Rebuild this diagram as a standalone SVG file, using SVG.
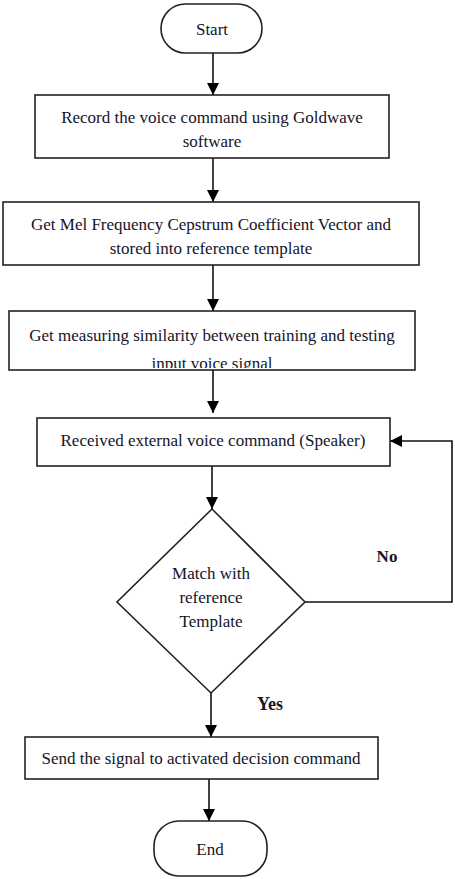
<svg xmlns="http://www.w3.org/2000/svg" width="455" height="879" viewBox="0 0 455 879">
<style>
.box{fill:#fff;stroke:#222;stroke-width:1.6}
.ln{fill:none;stroke:#111;stroke-width:1.6}
.t{font-family:"Liberation Serif","Times New Roman",serif;font-size:17px;fill:#14142a;text-anchor:middle}
.b{font-weight:bold}
</style>
<defs>
<marker id="ah" viewBox="0 0 12 12" refX="12" refY="6" markerWidth="12" markerHeight="12" markerUnits="userSpaceOnUse" orient="auto">
<path d="M0,0 L12,6 L0,12 z" fill="#000"/>
</marker>
<clipPath id="c3"><rect x="9" y="311" width="406" height="57"/></clipPath>
</defs>
<rect width="455" height="879" fill="#fff"/>
<g id="connectors">
<line class="ln" x1="213" y1="53" x2="213" y2="95" marker-end="url(#ah)"/>
<line class="ln" x1="213" y1="158" x2="213" y2="202" marker-end="url(#ah)"/>
<line class="ln" x1="213" y1="265" x2="213" y2="311" marker-end="url(#ah)"/>
<line class="ln" x1="213" y1="370" x2="213" y2="413" marker-end="url(#ah)"/>
<line class="ln" x1="212" y1="466" x2="212" y2="509" marker-end="url(#ah)"/>
<polyline class="ln" points="305,602 452,602 452,441 390,441" marker-end="url(#ah)"/>
<line class="ln" x1="211" y1="693" x2="211" y2="737" marker-end="url(#ah)"/>
<line class="ln" x1="209" y1="779" x2="209" y2="821" marker-end="url(#ah)"/>
<text class="t b" x="387" y="562">No</text>
<text class="t b" x="270" y="710" style="font-size:18px">Yes</text>
</g>
<g id="start">
<rect class="box" x="161" y="4" width="101" height="49" rx="24.5"/>
<text class="t" x="212" y="35">Start</text>
</g>
<g id="record">
<rect class="box" x="35" y="95" width="354" height="63"/>
<text class="t" x="212" y="123">Record the voice command using Goldwave</text>
<text class="t" x="212" y="147">software</text>
</g>
<g id="mfcc">
<rect class="box" x="3" y="202" width="416" height="63"/>
<text class="t" x="211" y="230">Get Mel Frequency Cepstrum Coefficient Vector and</text>
<text class="t" x="211" y="254">stored into reference template</text>
</g>
<g id="similarity">
<text class="t" x="212" y="369" clip-path="url(#c3)">input voice signal</text>
<rect class="box" x="9" y="311" width="406" height="59" style="fill:none"/>
<text class="t" x="212" y="341">Get measuring similarity between training and testing</text>
</g>
<g id="received">
<rect class="box" x="37" y="418" width="353" height="48"/>
<text class="t" x="213" y="446">Received external voice command (Speaker)</text>
</g>
<g id="match">
<polygon class="box" points="212,509 305,602 211,693 117,602"/>
<text class="t" x="211" y="579">Match with</text>
<text class="t" x="211" y="603">reference</text>
<text class="t" x="211" y="627">Template</text>
</g>
<g id="send">
<rect class="box" x="25" y="737" width="353" height="42"/>
<text class="t" x="201" y="764">Send the signal to activated decision command</text>
</g>
<g id="end">
<rect class="box" x="154" y="821" width="113" height="55" rx="25"/>
<text class="t" x="210" y="855">End</text>
</g>
</svg>
